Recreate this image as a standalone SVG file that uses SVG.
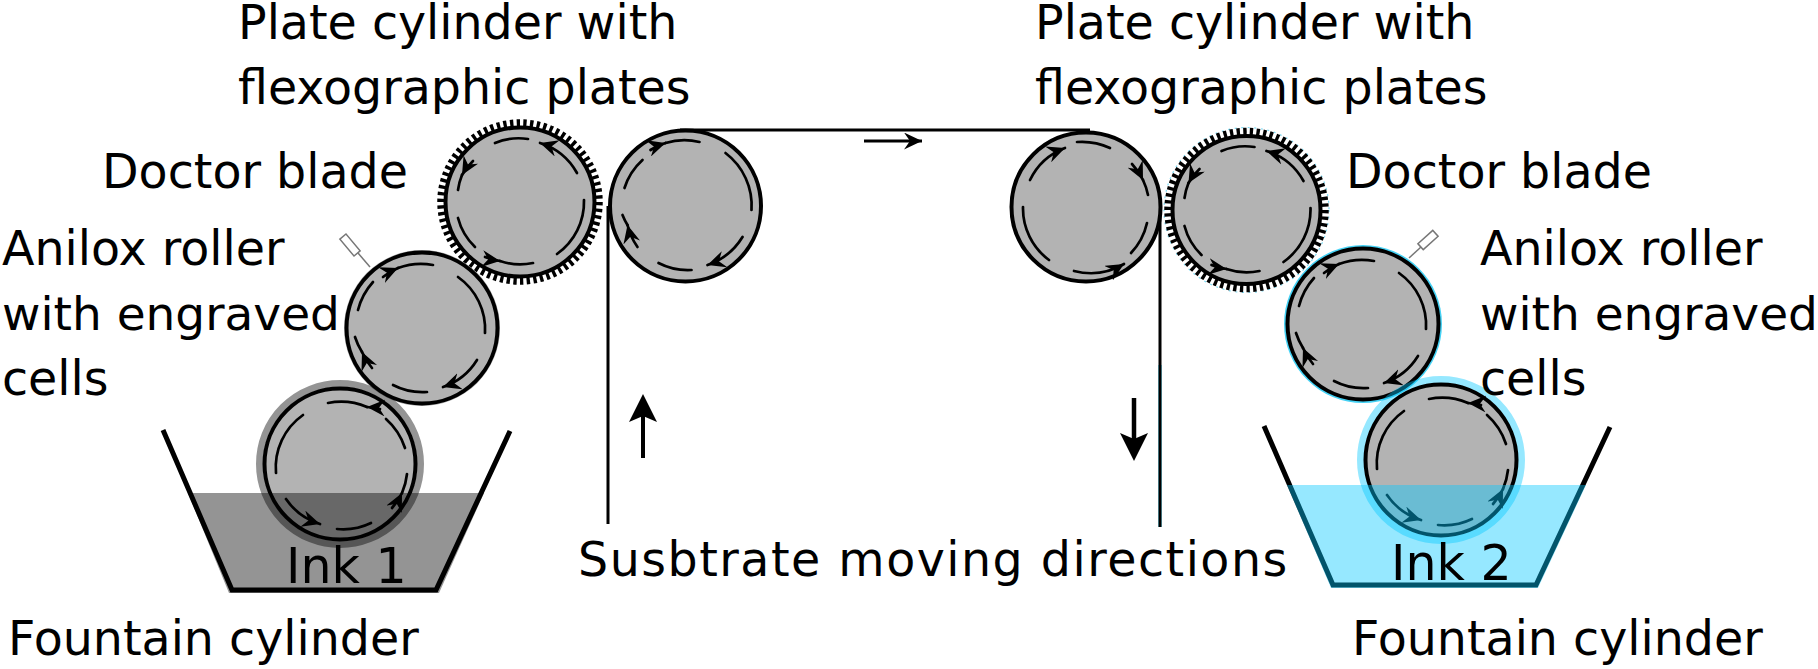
<svg xmlns="http://www.w3.org/2000/svg" width="1818" height="669" viewBox="0 0 1818 669">
<style>
text{font-family:"DejaVu Sans","Liberation Sans",sans-serif;font-size:47.5px;fill:#000}
.ink{font-size:49px}
.tight{font-size:47px}
.body{fill:#b3b3b3;stroke:#000;stroke-width:4}
.teeth{fill:none;stroke:#000;stroke-width:8.5;stroke-dasharray:1 1}
.arc{fill:none;stroke:#000;stroke-width:2.7;stroke-linecap:round}
.m{marker-end:url(#head)}
.tank{fill:none;stroke:#000;stroke-width:5}
.sub{fill:none;stroke:#000;stroke-width:3}
.blade{fill:#fff;stroke:#777;stroke-width:1.5}
.bl{stroke:#777;stroke-width:1.5}
</style>
<defs>
<marker id="head" markerUnits="userSpaceOnUse" markerWidth="19" markerHeight="17" refX="18" refY="8.5" orient="auto"><path d="M18 8.5L0 0L6 8.5L0 17Z" fill="#000"/></marker>
<marker id="big" markerUnits="userSpaceOnUse" markerWidth="30" markerHeight="28" refX="16" refY="14" orient="auto"><path d="M28 14L0 0L6 14L0 28Z" fill="#000"/></marker>
<g id="plate-arcs">
<path class="arc" d="M8-63A62 62 0 0 0-25-59"/>
<path class="arc m" d="M57-29A64 64 0 0 0 20-59"/>
<path class="arc m" d="M-47-41A62 62 0 0 0-58-27"/>
<path class="arc" d="M-58-27A62 62 0 0 0-62-12"/>
<path class="arc" d="M-62 16A62 62 0 0 0-45 45"/>
<path class="arc m" d="M-35 55A62 62 0 0 0-20 59"/>
<path class="arc" d="M-20 59A62 62 0 0 0 13 61"/>
<path class="arc" d="M37 52A64 64 0 0 0 64-2"/>
</g>
<g id="anilox-arcs">
<path class="arc" d="M-64-18A66 66 0 0 1-49-46"/>
<path class="arc m" d="M-39-51A66 66 0 0 1-24-60"/>
<path class="arc" d="M-24-60A66 66 0 0 1 11-63"/>
<path class="arc" d="M36-51A64 64 0 0 1 63 5"/>
<path class="arc m" d="M55 32A64 64 0 0 1 21 59"/>
<path class="arc" d="M5 64A64 64 0 0 1-29 57"/>
<path class="arc m" d="M-50 40A66 66 0 0 1-60 24"/>
<path class="arc" d="M-60 24A66 66 0 0 1-67 9"/>
</g>
<g id="fountain-arcs">
<path class="arc" d="M65-16A66 66 0 0 0 46-45"/>
<path class="arc m" d="M40-55A66 66 0 0 0 27-57"/>
<path class="arc" d="M27-57A66 66 0 0 0-12-61"/>
<path class="arc" d="M-37-49A64 64 0 0 0-64 9"/>
<path class="arc m" d="M-54 35A64 64 0 0 0-20 60"/>
<path class="arc" d="M-3 65A64 64 0 0 0 31 59"/>
<path class="arc m" d="M52 44A66 66 0 0 0 62 29"/>
<path class="arc" d="M62 29A66 66 0 0 0 67 10"/>
</g>
</defs>
<rect width="1818" height="669" fill="#fff"/>

<g id="connectors">
<path class="sub" d="M608 524V206"/>
<path class="sub" d="M680 130H1090"/>
<path d="M1160 365V527" fill="none" stroke="#5fd8f5" stroke-width="3.5"/>
<path class="sub" d="M1160 207V527"/>
<path d="M864 141H922" fill="none" stroke="#000" stroke-width="3" marker-end="url(#head)"/>
<path d="M643 458V406" fill="none" stroke="#000" stroke-width="4" marker-end="url(#big)"/>
<path d="M1134 398V449" fill="none" stroke="#000" stroke-width="4.5" marker-end="url(#big)"/>
</g>

<g id="plate-left">
<circle class="teeth" cx="520" cy="202" r="78.5" pathLength="148"/>
<circle class="body" cx="520" cy="202" r="74.5"/>
<use href="#plate-arcs" x="520" y="202"/>
</g>
<g id="roller-left">
<circle class="body" cx="685.5" cy="206" r="75.5"/>
<g transform="translate(685.5 206)">
<path class="arc" d="M-61-18A64 64 0 0 1-43-46"/>
<path class="arc m" d="M-35-56A64 64 0 0 1-20-63"/>
<path class="arc" d="M-20-63A64 64 0 0 1 14-64"/>
<path class="arc" d="M40-53A66 66 0 0 1 66 4"/>
<path class="arc m" d="M57 31A66 66 0 0 1 22 59"/>
<path class="arc" d="M6 64A64 64 0 0 1-27 57"/>
<path class="arc m" d="M-48 41A64 64 0 0 1-58 19"/>
<path class="arc" d="M-58 19A64 64 0 0 1-63 9"/>
</g>
</g>
<g id="anilox-left">
<circle cx="422" cy="328" r="78" fill="#aaa"/>
<circle class="body" cx="422" cy="328" r="75.5"/>
<use href="#anilox-arcs" x="422" y="328"/>
</g>
<g id="blade-left">
<path class="bl" d="M370 267L358 253"/>
<rect class="blade" x="-11" y="-4" width="22" height="8" transform="translate(350 245) rotate(50)"/>
</g>
<g id="fountain-left">
<circle cx="340" cy="464" r="80.5" fill="none" stroke="#000" stroke-opacity=".42" stroke-width="7"/>
<circle class="body" cx="340" cy="464" r="75.5"/>
<use href="#fountain-arcs" x="340" y="464"/>
</g>
<g id="tank-left">
<path class="tank" d="M163 430L232 590H436L510 431"/>
<path d="M188 493H484L439 593H229Z" fill="#000" fill-opacity=".42"/>
<text class="ink" x="286" y="583">Ink 1</text>
</g>

<g id="roller-right">
<circle class="body" cx="1086" cy="207" r="74.5"/>
<g transform="translate(1086 207)">
<path class="arc m" d="M-56-27A64 64 0 0 1-21-59"/>
<path class="arc" d="M-9-65A66 66 0 0 1 24-59"/>
<path class="arc m" d="M46-43A66 66 0 0 1 57-27"/>
<path class="arc" d="M57-27A66 66 0 0 1 62-12"/>
<path class="arc" d="M61 16A64 64 0 0 1 45 46"/>
<path class="arc m" d="M-12 64A66 66 0 0 0 38 57"/>
<path class="arc" d="M-37 53A64 64 0 0 1-63 0"/>
</g>
</g>
<g id="plate-right">
<circle cx="1246.5" cy="210" r="82.5" fill="none" stroke="#7fdcf5" stroke-width="1.2" stroke-dasharray="2 4.6"/>
<circle class="teeth" cx="1246.5" cy="210" r="78" pathLength="148"/>
<circle class="body" cx="1246.5" cy="210" r="74"/>
<use href="#plate-arcs" x="1246.5" y="210"/>
</g>
<g id="anilox-right">
<circle cx="1363" cy="324" r="79" fill="#45d2f5"/>
<circle class="body" cx="1363" cy="324" r="75.5"/>
<use href="#anilox-arcs" x="1363" y="324"/>
</g>
<g id="blade-right">
<path class="bl" d="M1409 258L1421 247"/>
<rect class="blade" x="-10" y="-4" width="20" height="8" transform="translate(1428 240) rotate(-42)"/>
</g>
<g id="fountain-right">
<circle cx="1441" cy="460" r="80.5" fill="none" stroke="#05c8ff" stroke-opacity=".42" stroke-width="7"/>
<circle class="body" cx="1441" cy="460" r="75.5"/>
<use href="#fountain-arcs" x="1441" y="460"/>
</g>
<g id="tank-right">
<path class="tank" d="M1264 426L1333 585H1536L1610 427"/>
<path d="M1287 485H1586L1538 588H1331Z" fill="#05c8ff" fill-opacity=".42"/>
<text class="ink" x="1391" y="580">Ink 2</text>
</g>

<g id="labels">
<text x="238" y="39">Plate cylinder with</text>
<text x="238" y="104">flexographic plates</text>
<text x="102" y="188">Doctor blade</text>
<text x="2" y="265">Anilox roller</text>
<text class="tight" x="2" y="330">with engraved</text>
<text x="2" y="395">cells</text>
<text x="8" y="655">Fountain cylinder</text>
<text x="1035" y="39">Plate cylinder with</text>
<text x="1035" y="104">flexographic plates</text>
<text x="1346" y="188">Doctor blade</text>
<text x="1480" y="265">Anilox roller</text>
<text class="tight" x="1480" y="330">with engraved</text>
<text x="1480" y="395">cells</text>
<text x="1352" y="655">Fountain cylinder</text>
<text x="578" y="576" letter-spacing="1.5">Susbtrate moving directions</text>
</g>
</svg>
